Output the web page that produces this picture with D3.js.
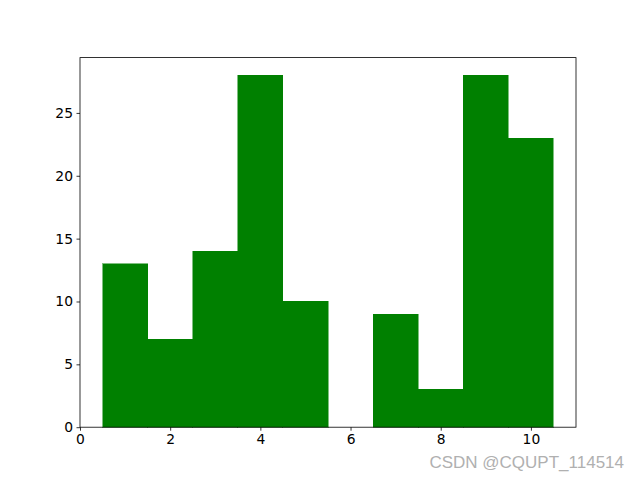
<!DOCTYPE html>
<html><head><meta charset="utf-8">
<script src="https://cdn.jsdelivr.net/npm/d3@7"></script>
<style>body{margin:0;background:#fff}svg{display:block}</style>
</head><body>
<script>
const binEdges = [0.5,1.5,2.5,3.5,4.5,5.5,6.5,7.5,8.5,9.5,10.5];
const counts = [13,7,14,28,10,0,9,3,28,23];
const xTicks = [0,2,4,6,8,10];
const yTicks = [0,5,10,15,20,25];

const W=640,H=480;
const m={l:80,r:64,t:57.6,b:52.8};
const svg=d3.select("body").append("svg").attr("width",W).attr("height",H);
const x=d3.scaleLinear().domain([0,11]).range([m.l,W-m.r]);
const y=d3.scaleLinear().domain([0,29.4]).range([H-m.b,m.t]);

svg.append("g").attr("shape-rendering","crispEdges").selectAll("rect").data(counts).join("rect")
  .attr("x",(d,i)=>x(binEdges[i]))
  .attr("width",(d,i)=>x(binEdges[i+1])-x(binEdges[i]))
  .attr("y",d=>y(d))
  .attr("height",d=>y(0)-y(d))
  .attr("fill","#008000")
  .attr("stroke","#008000").attr("stroke-width",0.5);

const font="DejaVu Sans";
const xa=svg.append("g").attr("transform",`translate(0,${H-m.b})`)
  .call(d3.axisBottom(x).tickValues(xTicks).tickSize(3.5).tickPadding(3.5).tickFormat(d3.format("d")));
const ya=svg.append("g").attr("transform",`translate(${m.l},0)`)
  .call(d3.axisLeft(y).tickValues(yTicks).tickSize(3.5).tickPadding(3.5).tickFormat(d3.format("d")));
[xa,ya].forEach(a=>{
  a.select(".domain").remove();
  a.selectAll("text").attr("font-family",font).attr("font-size",13.89).attr("fill","#000");
  a.selectAll("line").attr("stroke","#000").attr("stroke-width",0.8);
});
svg.append("rect").attr("x",m.l).attr("y",m.t).attr("width",W-m.l-m.r).attr("height",H-m.t-m.b)
  .attr("fill","none").attr("stroke","#000").attr("stroke-width",0.8);

svg.append("text").attr("x",624).attr("y",468).attr("text-anchor","end")
  .attr("font-family","Liberation Sans, Arial").attr("font-size",17).attr("fill","#b0b0b0")
  .text("CSDN @CQUPT_114514");
</script>
</body></html>
